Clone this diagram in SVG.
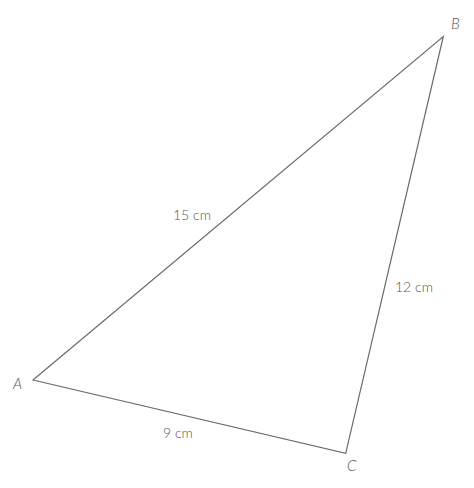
<svg xmlns="http://www.w3.org/2000/svg" width="474" height="488" viewBox="0 0 474 488">
<style>
.edge{fill:none;stroke:#6a6a6a;stroke-width:1.2;stroke-linejoin:miter}
.lbl{font-family:Lato,"Open Sans",sans-serif;font-size:14px;font-weight:300;fill:#555}
.pt{font-family:Lato,"Open Sans",sans-serif;font-size:15px;font-weight:300;font-style:italic;fill:#555}
</style>
<rect width="474" height="488" fill="#fff"/>
<g id="connectors">
<polygon class="edge" points="33,380 443.3,36.5 345.7,453.3"/>
</g>
<g id="A"><text class="pt" x="13" y="389">A</text></g>
<g id="B"><text class="pt" x="451" y="29">B</text></g>
<g id="C"><text class="pt" x="347" y="471">C</text></g>
<g id="lbl-AB"><text class="lbl" x="173" y="220">15 cm</text></g>
<g id="lbl-BC"><text class="lbl" x="395" y="292">12 cm</text></g>
<g id="lbl-CA"><text class="lbl" x="163" y="438">9 cm</text></g>
</svg>
